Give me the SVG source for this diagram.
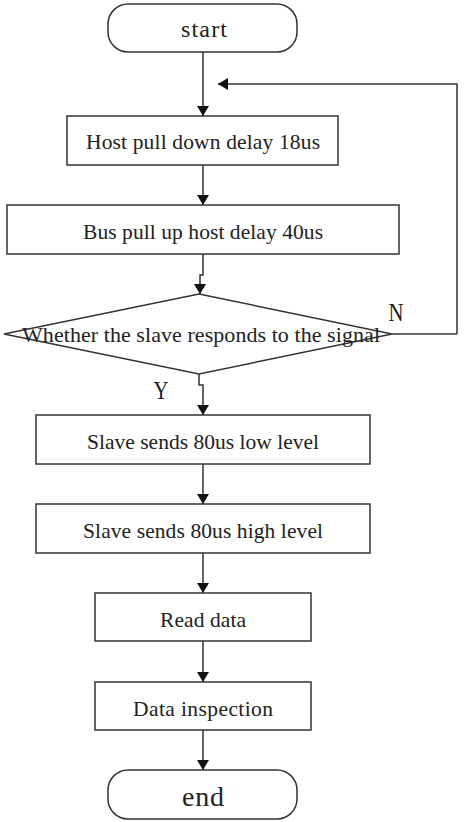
<svg xmlns="http://www.w3.org/2000/svg" width="474" height="822" viewBox="0 0 474 822">
<style>
.box{fill:#fff;stroke:#333;stroke-width:1.5}
.ln{fill:none;stroke:#333;stroke-width:1.5}
text{font-family:"Liberation Serif",serif;fill:#222;text-anchor:middle}
.t{font-size:21.5px}
.yn{font-size:26px}
</style>
<defs>
<marker id="ah" viewBox="0 0 10 12" refX="10" refY="6" markerWidth="10" markerHeight="12" markerUnits="userSpaceOnUse" orient="auto">
<path d="M0,0 L10,6 L0,12 Z" fill="#111"/>
</marker>
</defs>
<rect width="474" height="822" fill="#fff"/>
<g id="connectors">
<path class="ln" d="M203,52 V116" marker-end="url(#ah)"/>
<path class="ln" d="M457,334 V84 H218" marker-end="url(#ah)"/>
<path class="ln" d="M392,334 H457"/>
<path class="ln" d="M203,165 V205" marker-end="url(#ah)"/>
<path class="ln" d="M203,254 V275 H200 V294" marker-end="url(#ah)"/>
<path class="ln" d="M199,374 V385 H203 V415" marker-end="url(#ah)"/>
<path class="ln" d="M203,464 V504" marker-end="url(#ah)"/>
<path class="ln" d="M203,553 V593" marker-end="url(#ah)"/>
<path class="ln" d="M203,641 V682" marker-end="url(#ah)"/>
<path class="ln" d="M203,730 V770" marker-end="url(#ah)"/>
<text class="yn" x="396" y="321" textLength="15" lengthAdjust="spacingAndGlyphs">N</text>
<text class="yn" x="161" y="399" textLength="15" lengthAdjust="spacingAndGlyphs">Y</text>
</g>
<g id="start">
<rect class="box" x="108" y="4" width="189" height="48" rx="20"/>
<text x="204" y="37" style="font-size:24px" textLength="46">start</text>
</g>
<g id="host">
<rect class="box" x="67" y="116" width="271" height="49"/>
<text class="t" x="203" y="149" textLength="234">Host pull down delay 18us</text>
</g>
<g id="bus">
<rect class="box" x="7" y="205" width="392" height="49"/>
<text class="t" x="203" y="239" textLength="240">Bus pull up host delay 40us</text>
</g>
<g id="decision">
<polygon class="box" points="199,294 392,334 199,374 4,334"/>
<text class="t" x="201" y="342" textLength="358" style="font-size:22px">Whether the slave responds to the signal</text>
</g>
<g id="low">
<rect class="box" x="36" y="415" width="334" height="49"/>
<text class="t" x="203" y="449" textLength="232">Slave sends 80us low level</text>
</g>
<g id="high">
<rect class="box" x="36" y="504" width="334" height="49"/>
<text class="t" x="203" y="538" textLength="240">Slave sends 80us high level</text>
</g>
<g id="read">
<rect class="box" x="95" y="593" width="216" height="48"/>
<text class="t" x="203" y="627" textLength="86">Read data</text>
</g>
<g id="inspect">
<rect class="box" x="95" y="682" width="216" height="48"/>
<text class="t" x="203" y="716" textLength="140">Data inspection</text>
</g>
<g id="end">
<rect class="box" x="108" y="770" width="189" height="49" rx="20"/>
<text x="203" y="806" style="font-size:28px" textLength="42">end</text>
</g>
</svg>
